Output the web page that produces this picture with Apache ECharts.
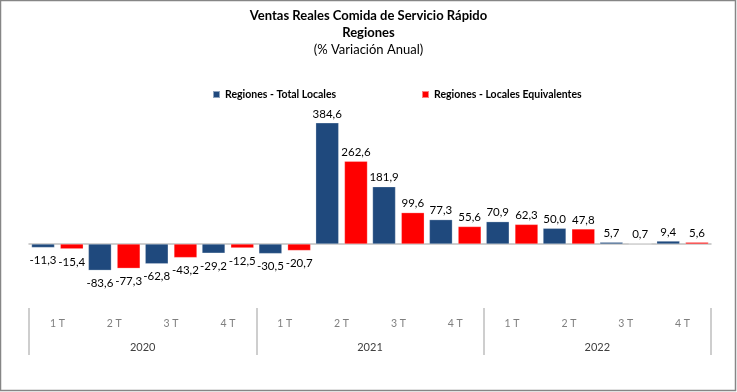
<!DOCTYPE html>
<html><head><meta charset="utf-8">
<script src="https://cdn.jsdelivr.net/npm/echarts@6/dist/echarts.min.js"></script>
<style>html,body{margin:0;padding:0;background:#fff}#c{width:737px;height:392px}</style>
</head><body><div id="c"></div>
<script>
const quarters = ['1 T','2 T','3 T','4 T','1 T','2 T','3 T','4 T','1 T','2 T','3 T','4 T'];
const years = ['2020','2021','2022'];
const totalLocales = [-11.3,-83.6,-62.8,-29.2,-30.5,384.6,181.9,77.3,70.9,50.0,5.7,9.4];
const localesEquiv = [-15.4,-77.3,-43.2,-12.5,-20.7,262.6,99.6,55.6,62.3,47.8,0.7,5.6];
const seriesNames = ['Regiones - Total Locales','Regiones - Locales Equivalentes'];

const FONT = 'Lato';
const fmt = p => p.value.toFixed(1).replace('.', ',');
function mk(name, data, color){
  return {
    name, type:'bar', barWidth:23, barGap:'25%',
    itemStyle:{color, borderColor:'rgba(255,255,255,0.5)', borderWidth:0.5},
    label:{show:true, formatter:fmt, fontFamily:FONT, fontSize:11.5, color:'#000'},
    data: data.map(v => ({value:v, label: v < 0 ? {position:'bottom', distance:7} : {position:'top', distance:3}}))
  };
}
const chart = echarts.init(document.getElementById('c'));
chart.setOption({
  animation:false,
  textStyle:{fontFamily:FONT},
  title:{
    text:'Ventas Reales Comida de Servicio Rápido\nRegiones',
    subtext:'(% Variación Anual)',
    left:'center', top:2, itemGap:2,
    textStyle:{fontFamily:FONT, fontSize:13, fontWeight:'bold', color:'#000', lineHeight:17},
    subtextStyle:{fontFamily:FONT, fontSize:13, color:'#000'}
  },
  legend:[
    {data:[seriesNames[0]], left:207, top:84, itemWidth:7, itemHeight:7, icon:'rect',
     textStyle:{fontFamily:FONT, fontSize:10.5, color:'#000', fontWeight:'bold'}},
    {data:[seriesNames[1]], left:416, top:84, itemWidth:7, itemHeight:7, icon:'rect',
     textStyle:{fontFamily:FONT, fontSize:10.5, color:'#000', fontWeight:'bold'}}
  ],
  graphic:[{type:'rect', shape:{x:0.5,y:0.5,width:735,height:390}, style:{fill:'none', stroke:'#868686', lineWidth:1.5}, silent:true}],
  grid:[
    {left:29, right:26, top:118, bottom:116.5},
    {left:29, right:26, top:308, height:47}
  ],
  xAxis:[
    {type:'category', gridIndex:0, data:quarters, axisLine:{onZero:true, lineStyle:{color:'#bfbfbf', width:1.5}},
     axisTick:{show:false}, axisLabel:{show:false}},
    {type:'category', gridIndex:1, position:'top', data:quarters, axisLine:{show:false}, axisTick:{show:false},
     axisLabel:{fontFamily:FONT, fontSize:10.5, color:'#7f7f7f', margin:-16, verticalAlign:'middle'}},
    {type:'category', gridIndex:1, position:'bottom', data:years, axisLine:{show:false},
     axisTick:{show:true, inside:true, length:47, lineStyle:{color:'#bfbfbf', width:1.5}},
     axisLabel:{fontFamily:FONT, fontSize:11, color:'#404040', margin:-8, verticalAlign:'middle'}}
  ],
  yAxis:[
    {type:'value', gridIndex:0, min:-100, max:400, show:false},
    {type:'value', gridIndex:1, show:false}
  ],
  series:[
    mk(seriesNames[0], totalLocales, '#1f497d'),
    mk(seriesNames[1], localesEquiv, '#ff0000')
  ]
});
</script></body></html>
